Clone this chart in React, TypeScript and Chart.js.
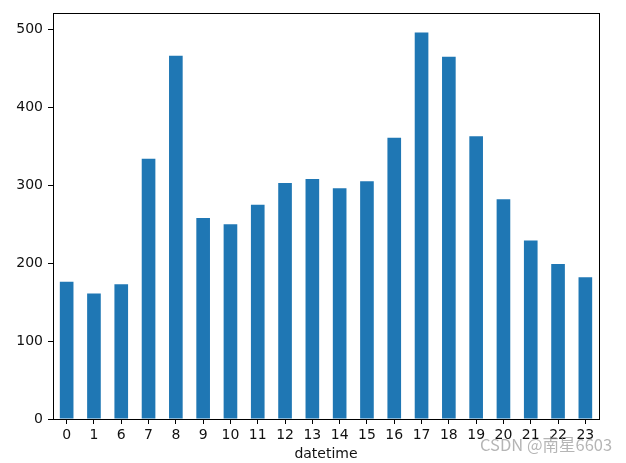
import React, { useEffect, useRef } from "react";
import { Chart, registerables } from "chart.js";

Chart.register(...registerables);

const hours: string[] = ["0", "1", "6", "7", "8", "9", "10", "11", "12", "13", "14", "15", "16", "17", "18", "19", "20", "21", "22", "23"];
const counts: number[] = [176, 161, 173, 334, 466, 258, 250, 275, 303, 308, 296, 305, 361, 496, 465, 363, 282, 229, 199, 182];
const yMax = 520.5;
const yStep = 100;
const xTitle = "datetime";
const watermark = "CSDN @南星6603";

const FONT = "'DejaVu Sans', sans-serif";

const framePlugin = {
  id: "frame",
  afterDraw(chart: any) {
    const { ctx, chartArea } = chart;
    ctx.save();
    ctx.strokeStyle = "#000";
    ctx.lineWidth = 1;
    ctx.strokeRect(
      Math.round(chartArea.left) + 0.5,
      Math.round(chartArea.top) + 0.5,
      Math.round(chartArea.right - chartArea.left),
      Math.round(chartArea.bottom - chartArea.top)
    );
    ctx.restore();
  },
};

export default function App() {
  const ref = useRef<HTMLCanvasElement | null>(null);
  useEffect(() => {
    if (!ref.current) return;
    const chart = new Chart(ref.current, {
      type: "bar",
      data: {
        labels: hours,
        datasets: [
          {
            data: counts,
            backgroundColor: "#1f77b4",
            borderWidth: 0,
            categoryPercentage: 1,
            barPercentage: 0.5,
          },
        ],
      },
      options: {
        responsive: false,
        animation: false,
        devicePixelRatio: 1,
        layout: { padding: { left: 0, top: 12, right: 27, bottom: 0 } },
        plugins: {
          legend: { display: false },
          tooltip: { enabled: false },
        },
        scales: {
          x: {
            offset: true,
            grid: {
              offset: false,
              drawOnChartArea: false,
              drawTicks: true,
              tickLength: 5,
              color: "#000",
            },
            border: { display: true, color: "#000" },
            ticks: {
              color: "#111",
              font: { family: FONT, size: 14 },
              padding: 3,
              maxRotation: 0,
              autoSkip: false,
            },
            title: {
              display: true,
              text: xTitle,
              color: "#111",
              font: { family: FONT, size: 14 },
              padding: 0,
            },
            afterFit(scale: any) {
              scale.height = 44;
            },
          },
          y: {
            min: 0,
            max: yMax,
            grid: {
              drawOnChartArea: false,
              drawTicks: true,
              tickLength: 5,
              color: "#000",
            },
            border: { display: true, color: "#000" },
            ticks: {
              stepSize: yStep,
              includeBounds: false,
              color: "#111",
              font: { family: FONT, size: 14 },
              padding: 5,
            },
            afterFit(scale: any) {
              scale.width = 53;
            },
          },
        },
      },
      plugins: [framePlugin],
    });
    return () => chart.destroy();
  }, []);

  return (
    <div style={{ position: "fixed", left: 0, top: 0, width: 626, height: 463, background: "#fff" }}>
      <canvas ref={ref} width={626} height={463} style={{ display: "block" }} />
      <div
        style={{
          position: "absolute",
          left: 480,
          top: 434,
          fontFamily: "'Noto Sans CJK SC', sans-serif",
          fontSize: 16.5,
          color: "rgba(150,150,150,0.7)",
          whiteSpace: "nowrap",
          lineHeight: "20px",
        }}
      >
        {watermark}
      </div>
    </div>
  );
}
